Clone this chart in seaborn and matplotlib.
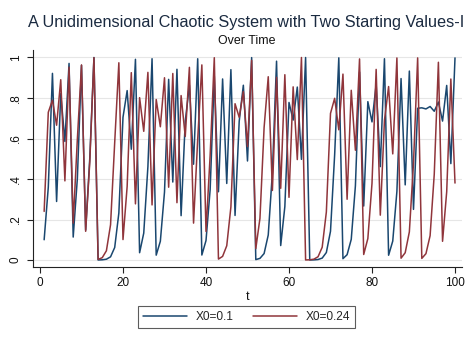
import matplotlib
matplotlib.use("Agg")
import matplotlib.pyplot as plt
from matplotlib.lines import Line2D
import pandas as pd
import seaborn as sns

t = list(range(1, 101))

x0_01 = [0.1, 0.36, 0.9216, 0.2890, 0.8219, 0.5854, 0.9708, 0.1133, 0.4020, 0.9616,
         0.1478, 0.5039, 0.9999, 0.0002, 0.0010, 0.0039, 0.0157, 0.0618, 0.2320, 0.7050,
         0.8365, 0.5470, 0.9910, 0.0360, 0.1330, 0.4610, 0.9940, 0.0240, 0.0926, 0.3360,
         0.8920, 0.3850, 0.9417, 0.2190, 0.6850, 0.8630, 0.4730, 0.9938, 0.0246, 0.0960,
         0.3480, 0.9080, 0.3370, 0.8940, 0.3780, 0.9400, 0.2200, 0.6850, 0.8630, 0.4890,
         0.9995, 0.0020, 0.0081, 0.0319, 0.1235, 0.4325, 0.9818, 0.0714, 0.2640, 0.7780,
         0.6910, 0.8540, 0.4970, 0.9999, 0.0002, 0.0006, 0.0024, 0.0094, 0.0370, 0.1420,
         0.5200, 0.9983, 0.0066, 0.0262, 0.1020, 0.3660, 0.9285, 0.2665, 0.7820, 0.6820,
         0.8670, 0.4610, 0.9940, 0.0235, 0.0935, 0.3390, 0.8960, 0.3710, 0.9330, 0.2500,
         0.7493, 0.7515, 0.7460, 0.7580, 0.7345, 0.7800, 0.6860, 0.8620, 0.4760, 0.9980]

x0_024 = [0.24, 0.7296, 0.7891, 0.6656, 0.8903, 0.3907, 0.9522, 0.1822, 0.5959, 0.9632,
          0.1417, 0.4866, 0.9993, 0.0029, 0.0115, 0.0456, 0.1740, 0.5800, 0.9740, 0.1009,
          0.3631, 0.9251, 0.2773, 0.8017, 0.6355, 0.9266, 0.2720, 0.7926, 0.6580, 0.9000,
          0.3595, 0.9210, 0.2830, 0.8120, 0.6100, 0.9514, 0.1822, 0.5960, 0.9634, 0.1410,
          0.5170, 0.9989, 0.0045, 0.0179, 0.0704, 0.2622, 0.7717, 0.7047, 0.8317, 0.5600,
          0.9857, 0.0563, 0.2056, 0.6540, 0.9050, 0.3435, 0.9020, 0.3540, 0.9150, 0.3095,
          0.8550, 0.4960, 0.9999, 0.0003, 0.0010, 0.0041, 0.0161, 0.0631, 0.2370, 0.7240,
          0.7985, 0.6430, 0.9180, 0.3000, 0.8380, 0.5420, 0.9930, 0.0273, 0.1059, 0.3787,
          0.9412, 0.2215, 0.6894, 0.8566, 0.5240, 0.9977, 0.0090, 0.0360, 0.1388, 0.4780,
          0.9980, 0.0079, 0.0314, 0.1200, 0.4232, 0.9764, 0.0924, 0.3370, 0.8937, 0.3800]

series_names = ["X0=0.1", "X0=0.24"]
xticks = [0, 20, 40, 60, 80, 100]
yticks = [0, 0.2, 0.4, 0.6, 0.8, 1.0]
ytick_labels = ["0", ".2", ".4", ".6", ".8", "1"]
title = "A Unidimensional Chaotic System with Two Starting Values-I"
subtitle = "Over Time"
xlabel = "t"

colors = ["#1a476f", "#90353b"]

df = pd.DataFrame({
    "t": t + t,
    "value": x0_01 + x0_024,
    "series": [series_names[0]] * len(t) + [series_names[1]] * len(t),
})

sns.set_theme(style="ticks")
plt.rcParams['font.family'] = ['Liberation Sans', 'DejaVu Sans']

fig = plt.figure(figsize=(4.74, 3.45), dpi=100)
fig.patch.set_facecolor("white")
ax = fig.add_axes([33 / 474, 1 - 267 / 345, (462 - 33) / 474, (267 - 50) / 345])

sns.lineplot(data=df, x="t", y="value", hue="series", palette=colors,
             hue_order=series_names, estimator=None, linewidth=1.1,
             legend=False, ax=ax)

ax.set_xlim(-7 / 4.15, 100 + 7 / 4.15)
ax.set_ylim(-7 / 202.5, 1 + 7.5 / 202.5)
ax.set_xticks(xticks)
ax.set_xticklabels([str(v) for v in xticks])
ax.set_yticks(yticks)
ax.set_yticklabels(ytick_labels, rotation=90, va="center")
ax.yaxis.grid(True, color="#e6e6e6", linewidth=0.8)
ax.set_axisbelow(True)
for s in ["top", "right"]:
    ax.spines[s].set_visible(False)
for s in ["left", "bottom"]:
    ax.spines[s].set_color("#222222")
    ax.spines[s].set_linewidth(0.8)
ax.tick_params(axis="both", length=4, width=0.8, color="#222222",
               labelsize=8.5, labelcolor="#111111")
ax.tick_params(axis="y", pad=4)
ax.tick_params(axis="x", pad=3)
ax.set_xlabel(xlabel, fontsize=9, color="#111111", labelpad=2)
ax.set_ylabel("")

fig.text(246 / 474, 1 - 22.5 / 345, title, ha="center", va="center",
         fontsize=11.7, color="#1a2a40")
fig.text(247 / 474, 1 - 41 / 345, subtitle, ha="center", va="center",
         fontsize=8.9, color="#111111")

handles = [Line2D([0], [0], color=c, lw=1.1) for c in colors]
leg = fig.legend(handles, series_names, loc="center", ncol=2,
                 bbox_to_anchor=(246.5 / 474, 1 - 317 / 345),
                 frameon=True, fancybox=False, fontsize=8.6,
                 handlelength=3.7, handletextpad=0.7, columnspacing=1.6,
                 borderpad=0.45)
leg.get_frame().set_edgecolor("#333333")
leg.get_frame().set_linewidth(0.8)

fig.savefig("out.png", dpi=100, facecolor="white")
